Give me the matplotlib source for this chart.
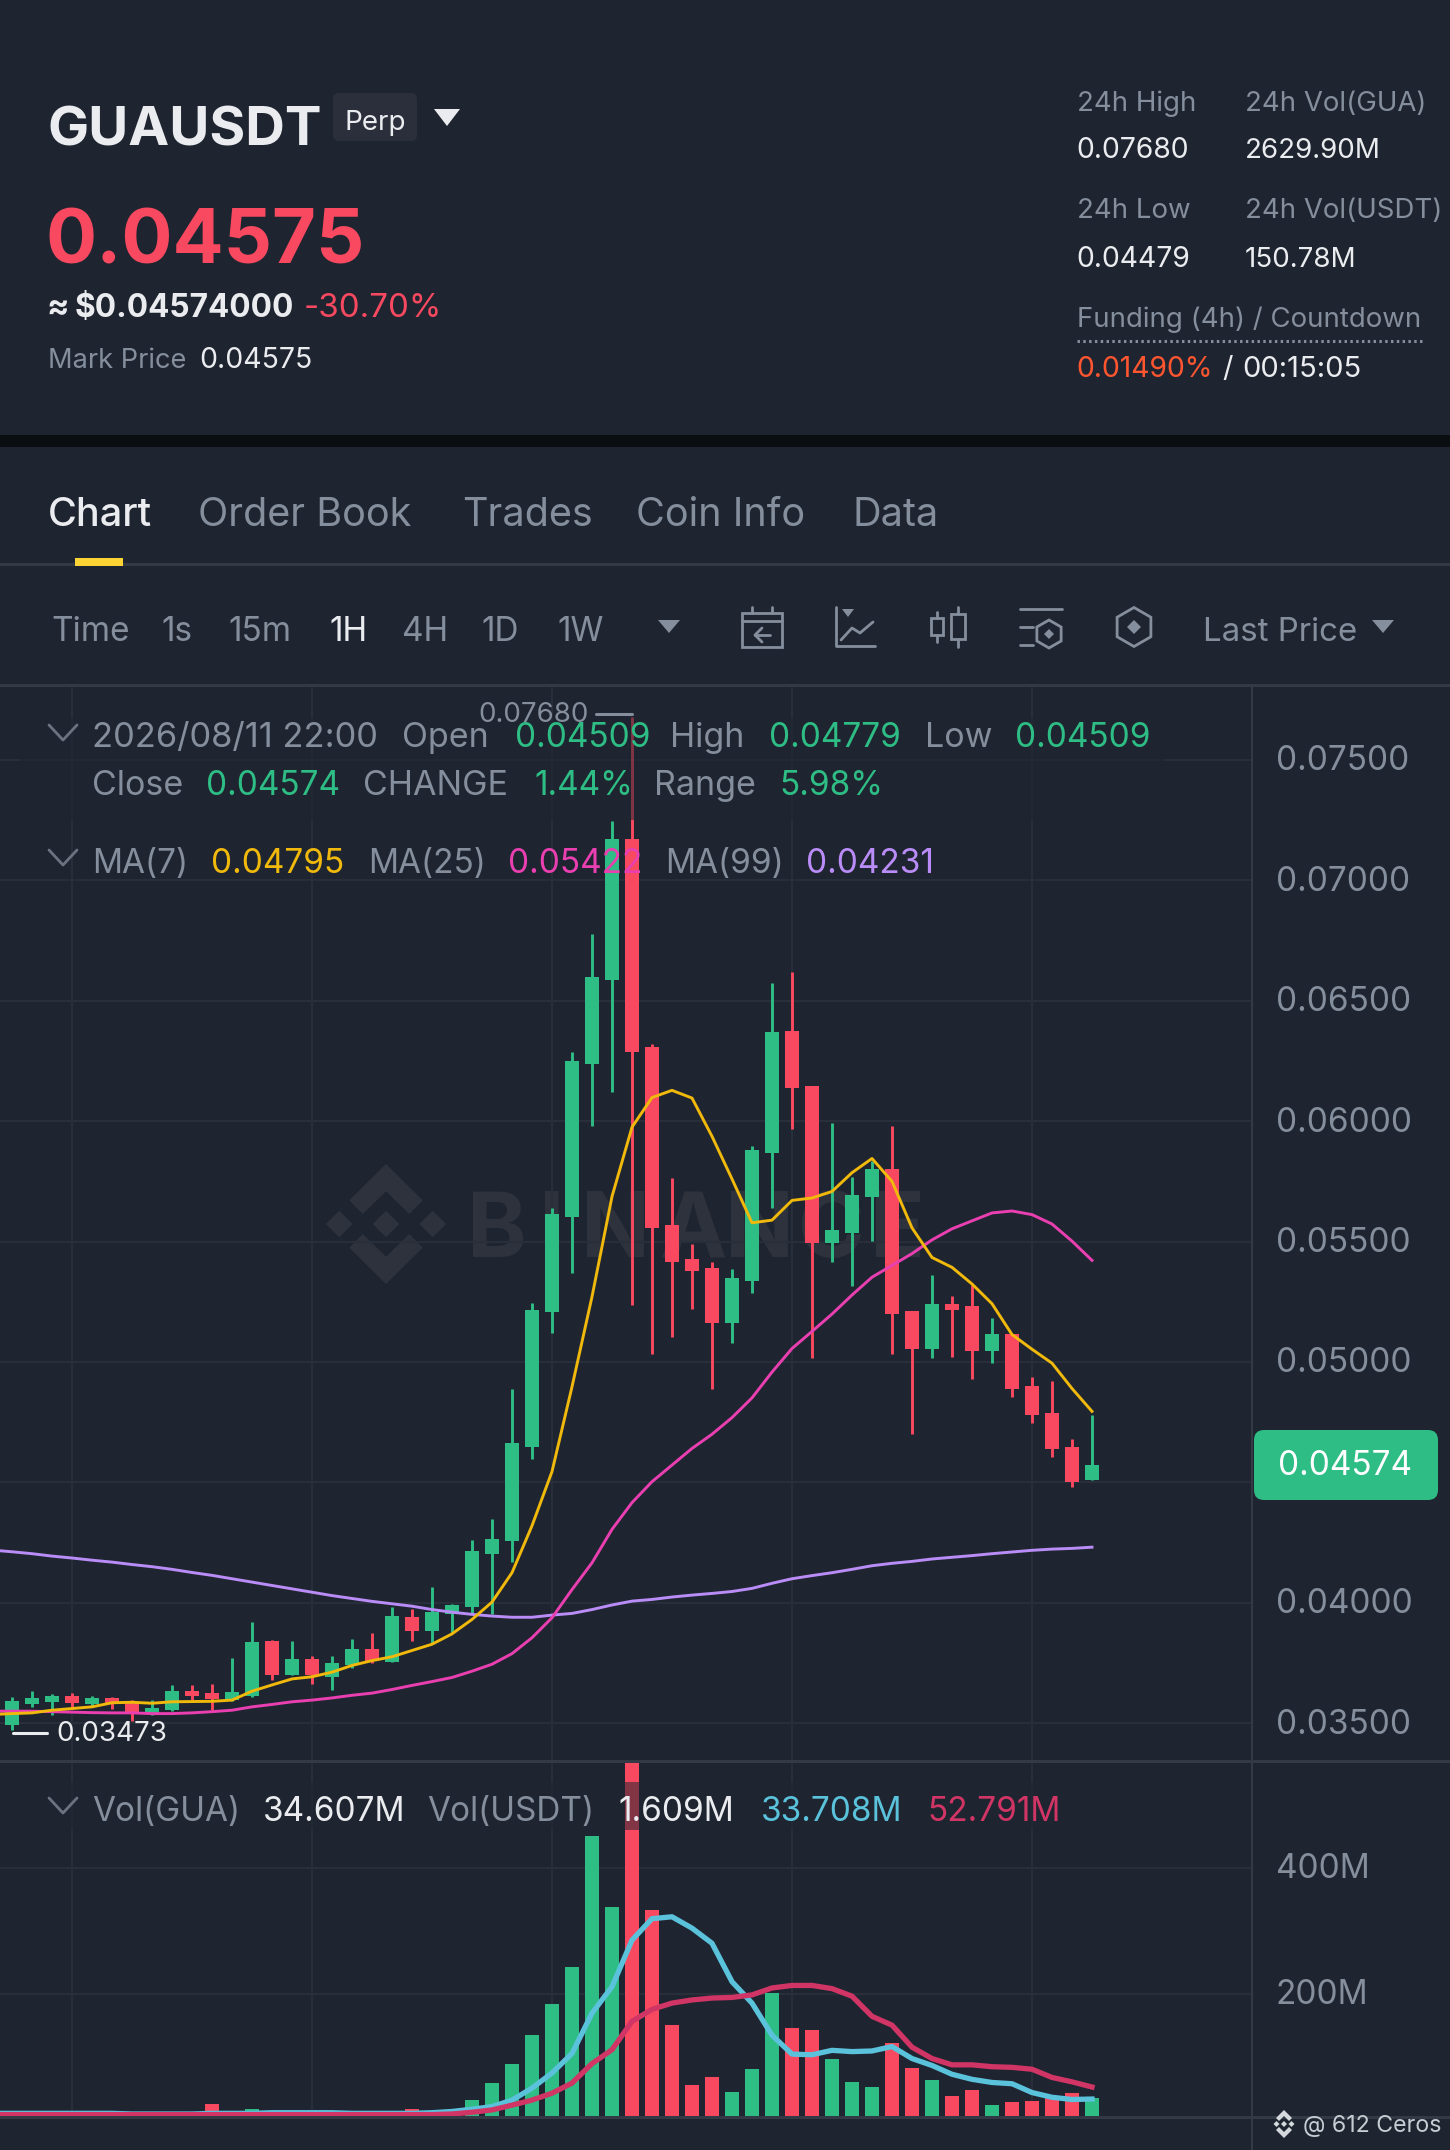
import numpy as np
import matplotlib
matplotlib.use('Agg')
import matplotlib.pyplot as plt
from matplotlib.patches import Rectangle, Polygon, FancyBboxPatch
from matplotlib.ticker import FuncFormatter
from matplotlib.transforms import ScaledTranslation

plt.rcParams['font.family'] = ['Inter', 'DejaVu Sans']

# candles, one hour each
opens = [.03494, .03578, .03589, .03611, .03579, .03605, .03589, .03543, .03553, .03634, .03626,
         .03596, .03615, .03841, .03699, .03765, .03694, .03740, .03809, .03756, .03940, .03885,
         .03953, .03981, .04201, .04255, .04648, .05209, .05601, .06236, .06586, .07171, .06306,
         .05568, .05427, .05389, .05163, .05338, .05868, .06375, .06147, .05496, .05537, .05686,
         .05803, .05210, .05053, .05242, .05232, .05046, .05117, .04900, .04787, .04648, .04509]
closes = [.03591, .03605, .03615, .03582, .03605, .03578, .03547, .03564, .03634, .03611, .03601,
          .03629, .03839, .03699, .03765, .03699, .03751, .03809, .03758, .03945, .03882, .03963,
          .03992, .04215, .04263, .04662, .05216, .05615, .06249, .06599, .07171, .06289, .05557,
          .05417, .05378, .05161, .05350, .05881, .06370, .06137, .05496, .05548, .05693, .05801,
          .05199, .05055, .05242, .05217, .05046, .05117, .04889, .04779, .04638, .04503, .04574]
highs = [.03609, .03634, .03623, .03626, .03615, .03609, .03598, .03598, .03659, .03659, .03663,
         .03769, .03920, .03845, .03841, .03781, .03781, .03850, .03873, .03981, .03975, .04066,
         .03994, .04259, .04346, .04887, .05246, .05640, .06286, .06777, .07248, .07680, .06320,
         .05763, .05491, .05415, .05386, .05898, .06574, .06620, .06147, .05991, .05767, .05836,
         .05978, .05210, .05361, .05274, .05319, .05183, .05117, .04936, .04922, .04682, .04779]
lows = [.03473, .03566, .03536, .03566, .03571, .03560, .03508, .03536, .03550, .03596, .03557,
        .03593, .03608, .03681, .03699, .03661, .03640, .03730, .03751, .03756, .03841, .03834,
        .03873, .03953, .03952, .04169, .04598, .05119, .05371, .05981, .06122, .05237, .05032,
        .05102, .05219, .04887, .05078, .05286, .05639, .05967, .05015, .05415, .05315, .05501,
        .05032, .04700, .05017, .05020, .04930, .04995, .04854, .04748, .04605, .04480, .04509]

# moving averages start one hour before the first visible candle
ma7 = [.03536, .03540, .03543, .03554, .03561, .03568, .03585, .03587, .03583, .03589, .03590, .03591,
       .03596, .03633, .03659, .03684, .03693, .03712, .03740, .03760, .03776, .03802, .03828,
       .03871, .03931, .04003, .04125, .04320, .04545, .04897, .05271, .05687, .05975, .06098,
       .06128, .06096, .05937, .05760, .05578, .05589, .05671, .05681, .05708, .05786, .05845,
       .05750, .05557, .05434, .05393, .05324, .05242, .05114, .05053, .04995, .04890, .04795]
ma25 = [.03550, .03550, .03550, .03548, .03546, .03544, .03543, .03543, .03540, .03540, .03543, .03548,
        .03554, .03568, .03578, .03589, .03596, .03605, .03616, .03625, .03640, .03657, .03673,
        .03690, .03716, .03745, .03789, .03855, .03938, .04055, .04166, .04305, .04416, .04503,
        .04572, .04641, .04700, .04769, .04851, .04958, .05056, .05127, .05199, .05278, .05352,
        .05401, .05450, .05507, .05553, .05586, .05619, .05627, .05612, .05573, .05502, .05422]
ma99 = [.04219, .04212, .04204, .04194, .04186, .04177, .04169, .04159, .04150, .04139, .04126, .04114,
        .04100, .04086, .04072, .04058, .04044, .04030, .04018, .04006, .03996, .03986, .03972,
        .03961, .03952, .03945, .03940, .03940, .03949, .03956, .03972, .03991, .04007, .04014,
        .04024, .04032, .04039, .04047, .04060, .04081, .04100, .04113, .04125, .04139, .04154,
        .04164, .04172, .04182, .04189, .04196, .04204, .04211, .04218, .04223, .04226, .04231]

# volume in millions
vols = [12, 10, 9, 10, 9, 8, 9, 8, 9, 10, 26, 9, 18, 10, 9, 10, 9, 8, 9, 10, 18, 11, 12, 32, 59, 90,
        135, 184, 243, 451, 339, 575, 334, 152, 56, 68, 45.5, 81, 202, 147, 143, 97, 61, 53, 122,
        83, 63.5, 38, 48, 24, 29, 31, 35, 43, 36]
vol_ma_fast = [11, 11, 11, 11, 11, 11, 11, 10, 10, 10, 10, 11, 11, 11, 12, 12, 12, 12, 11, 11, 11, 11, 12,
               14, 17.5, 21.7, 32, 51, 75, 106, 170, 212, 286, 320, 323, 305, 281, 220, 186, 135,
               105, 104, 111, 109, 110, 117, 98, 87, 73, 65, 60, 58, 44, 36.5, 33, 33.7]
vol_ma_slow = [9, 9, 9, 9, 9, 9, 9, 9, 9, 9, 9, 9, 9, 9, 9, 9, 9, 9, 9, 9, 9, 9, 9,
               10, 12.7, 16.4, 24, 32, 43, 59, 90, 112, 157, 176, 186, 191, 194, 195, 199, 210,
               214, 214, 209, 197, 165, 151, 116, 98, 88, 88, 85, 84, 81, 68, 61, 52.8]

price_ticks = [.035, .04, .045, .05, .055, .06, .065, .07, .075]
vol_ticks = [200, 400]
time_ticks = [3, 15, 27, 39, 51]

BG = '#1F2530'
GRID = '#292F3A'
SEP = '#333A46'
GREEN = '#2EBD85'
RED = '#F84960'
GREY = '#848E9C'
WHITE = '#EAECEF'
YELLOW = '#F0B90B'
PINK = '#E93FB0'
PURPLE = '#B98CF7'
BLUE = '#5BC2DC'
CRIMSON = '#D03565'
MARK = '#2E323D'

W, H = 1450, 2150
fig = plt.figure(figsize=(W / 100, H / 100), dpi=100, facecolor=BG)


def full_axes(z):
    a = fig.add_axes([0, 0, 1, 1], zorder=z)
    a.set_xlim(0, W)
    a.set_ylim(H, 0)
    a.axis('off')
    return a


def pane(top, bottom, z=1):
    a = fig.add_axes([0, 1 - bottom / H, 1252 / W, (bottom - top) / H], zorder=z)
    a.patch.set_alpha(0)
    for s in a.spines.values():
        s.set_visible(False)
    a.yaxis.tick_right()
    a.tick_params(length=0, pad=17, labelsize=24, labelcolor=GREY, labelbottom=False)
    a.set_xlim(-0.6, 62)
    a.set_xticks(time_ticks)
    a.grid(True, color=GRID, lw=1.5)
    a.set_axisbelow(True)
    return a


def lift_labels(a, px):
    # tick labels sit a little above their grid lines
    shift = ScaledTranslation(0, px / 100, fig.dpi_scale_trans)
    for lab in a.get_yticklabels():
        lab.set_transform(lab.get_transform() + shift)


back = full_axes(0)
ax = pane(686, 1762)
vax = pane(1762, 2118)
top = full_axes(2)

# watermark behind the candles
wx, wy = 386, 1224
for cx, cy in [(0, 0), (-46.7, 0), (46.7, 0)]:
    back.add_patch(Polygon([(wx + cx, wy - 13.3), (wx + cx + 13.3, wy), (wx + cx, wy + 13.3), (wx + cx - 13.3, wy)],
                           color=MARK, lw=0))
for sg in (1, -1):
    pts = [(0, -60), (36.7, -23.7), (23.3, -10), (0, -32.7), (-23.3, -10), (-36.7, -23.7)]
    back.add_patch(Polygon([(wx + a, wy + sg * b) for a, b in pts], color=MARK, lw=0))
for letter, lx in zip('BINANCE', [467, 539, 581, 660, 725, 798, 870]):
    back.text(lx, 1257, letter, fontsize=65, fontweight='bold', color=MARK, va='baseline')

# candles
idx = np.arange(len(opens))
o, c, hi, lo = map(np.array, (opens, closes, highs, lows))
col = [GREEN if b >= a else RED for a, b in zip(o, c)]
ax.vlines(idx, lo, hi, colors=col, lw=2.1, zorder=2)
ax.bar(idx, np.abs(c - o), bottom=np.minimum(o, c), width=0.7, color=col, zorder=3)
ma_x = np.arange(-1, len(opens))
ax.plot(ma_x, ma99, color=PURPLE, lw=2.1, zorder=4)
ax.plot(ma_x, ma25, color=PINK, lw=2.1, zorder=4)
ax.plot(ma_x, ma7, color=YELLOW, lw=2.1, zorder=5)
ax.set_ylim(0.03339, 0.07807)
ax.set_yticks(price_ticks)
ax.yaxis.set_major_formatter(FuncFormatter(lambda v, p: f'{v:.5f}'))
lift_labels(ax, 2)

# volume
vax.bar(idx, vols, width=0.7, color=col, zorder=2)
vax.plot(ma_x, vol_ma_fast, color=BLUE, lw=3.8, zorder=3)
vax.plot(ma_x, vol_ma_slow, color=CRIMSON, lw=3.8, zorder=4)
vax.set_ylim(3.6, 568.7)
vax.set_yticks(vol_ticks)
vax.yaxis.set_major_formatter(FuncFormatter(lambda v, p: f'{v:.0f}M'))
lift_labels(vax, 3)


def txt(x, y, s, size, color=GREY, weight='normal', ha='left', zorder=6):
    top.text(x, y, s, fontsize=size, color=color, fontweight=weight, ha=ha, va='baseline', zorder=zorder)


def line(xs, ys, color=GREY, lw=2.0):
    top.plot(xs, ys, color=color, lw=lw, solid_capstyle='round', solid_joinstyle='round')


def rect(x0, y0, x1, y1, color, alpha=1.0, z=1):
    top.add_patch(Rectangle((x0, y0), x1 - x0, y1 - y0, facecolor=color, alpha=alpha, lw=0, zorder=z))


def tri(x0, x1, y0, y1, color):
    top.add_patch(Polygon([(x0, y0), (x1, y0), ((x0 + x1) / 2, y1)], color=color, lw=0, joinstyle='round'))


def hexagon(cx, cy, r, d):
    a = np.radians(np.arange(-90, 300, 60))
    top.add_patch(Polygon(np.c_[cx + r * np.cos(a), cy + r * np.sin(a)], fill=False, edgecolor=GREY, lw=2.0))
    top.add_patch(Polygon([(cx, cy - d), (cx + d, cy), (cx, cy + d), (cx - d, cy)], color=GREY, lw=0))


# page bands and separators
rect(0, 435, W, 447, '#0B0E11')
rect(0, 563, W, 566, SEP)
rect(0, 684, W, 687, SEP)
rect(0, 1760, W, 1763, SEP)
rect(0, 2116, W, 2119, SEP)
rect(1251, 686, 1253, H, SEP)
# legend strips dim what lies under them
rect(20, 717, 1165, 820, BG, 0.55)
rect(20, 1782, 1080, 1830, BG, 0.55)

# header, left
txt(48, 145, 'GUAUSDT', 39.5, WHITE, 'bold')
top.add_patch(FancyBboxPatch((337, 97), 76, 40, boxstyle='round,pad=4,rounding_size=6', fc='#2A2F3B', ec='none'))
txt(345, 130, 'Perp', 20, WHITE)
tri(434, 460, 109, 126, WHITE)
txt(46, 264, '0.04575', 54.5, RED, 'bold')
txt(47, 317, '≈', 24, WHITE, 'bold')
txt(75, 317, '$0.04574000', 22.8, WHITE, 'bold')
txt(304, 317, '-30.70%', 23.8, RED)
txt(48, 368, 'Mark Price', 19.6, GREY)
txt(199, 368, '0.04575', 20.5, WHITE)

# header, right
txt(1077, 111, '24h High', 19.9, GREY)
txt(1245, 111, '24h Vol(GUA)', 19.9, GREY)
txt(1076, 158, '0.07680', 20.4, WHITE)
txt(1245, 158, '2629.90M', 20, WHITE)
txt(1077, 218, '24h Low', 19.9, GREY)
txt(1245, 218, '24h Vol(USDT)', 19.9, GREY)
txt(1076, 267, '0.04479', 20.4, WHITE)
txt(1245, 267, '150.78M', 20, WHITE)
txt(1077, 327, 'Funding (4h) / Countdown', 19.9, GREY)
top.plot([1077, 1422], [341, 341], color=GREY, lw=2.2, ls=(0, (0.8, 1.1)))
txt(1076, 377, '0.01490%', 20.4, '#FF5630')
txt(1222, 377, '/', 21, WHITE)
txt(1242, 377, '00:15:05', 21, WHITE)

# tabs
for label, x in zip(['Chart', 'Order Book', 'Trades', 'Coin Info', 'Data'], [48, 198, 462, 636, 853]):
    txt(x, 526, label, 28.5, WHITE if label == 'Chart' else GREY, 'medium' if label == 'Chart' else 'normal')
rect(75, 558, 123, 566, '#FCD535', z=3)

# toolbar
for label, x in zip(['Time', '1s', '15m', '1H', '4H', '1D', '1W'], [51, 161, 228, 329, 402, 481, 557]):
    txt(x, 641, label, 24, WHITE if label == '1H' else GREY)
tri(658, 680, 620, 633, GREY)
txt(1203, 641, 'Last Price', 23.8, GREY)
tri(1372, 1394, 620, 633, GREY)

# calendar icon
top.add_patch(Rectangle((742, 613), 40, 34, fill=False, edgecolor=GREY, lw=2.0))
line([742, 782], [621, 621])
line([752, 752], [607, 613])
line([772, 772], [607, 613])
line([755, 770], [635, 635])
line([762, 755, 762], [628, 635, 642])
# line chart icon
line([836, 836, 875], [607, 646, 646])
line([841, 852, 860, 873], [640, 628, 633, 622])
tri(842, 854, 609, 617, GREY)
# candle icon
top.add_patch(Rectangle((931, 618), 12, 17, fill=False, edgecolor=GREY, lw=2.0))
line([937, 937], [612, 618])
line([937, 937], [635, 642])
top.add_patch(Rectangle((951, 614), 14, 25, fill=False, edgecolor=GREY, lw=2.0))
line([958, 958], [607, 614])
line([958, 958], [639, 647])
# settings icon
line([1020, 1062], [609, 609])
line([1020, 1033], [627, 627])
line([1020, 1033], [645, 645])
hexagon(1049, 634, 14, 5)
hexagon(1134, 627, 19.5, 7)

# legends over the price pane
line([49, 63, 77], [725, 740, 725], '#6B7280')
line([49, 63, 77], [850, 865, 850], '#6B7280')
line([49, 63, 77], [1798, 1813, 1798], '#6B7280')
LABEL_SIZE, VALUE_SIZE = 24.5, 24
for label, x, color, size in [('2026/08/11 22:00', 92, GREY, 24.8), ('Open', 402, GREY, LABEL_SIZE),
                              ('0.04509', 515, GREEN, VALUE_SIZE), ('High', 670, GREY, LABEL_SIZE),
                              ('0.04779', 769, GREEN, VALUE_SIZE), ('Low', 925, GREY, LABEL_SIZE),
                              ('0.04509', 1015, GREEN, VALUE_SIZE)]:
    txt(x, 747, label, size, color)
for label, x, color, size in [('Close', 92, GREY, LABEL_SIZE), ('0.04574', 206, GREEN, VALUE_SIZE),
                              ('CHANGE', 363, GREY, LABEL_SIZE), ('1.44%', 534, GREEN, VALUE_SIZE),
                              ('Range', 654, GREY, LABEL_SIZE), ('5.98%', 779, GREEN, VALUE_SIZE)]:
    txt(x, 795, label, size, color)
for label, x, color in [('MA(7)', 92, GREY), ('0.04795', 211, YELLOW), ('MA(25)', 368, GREY), ('0.05422', 508, PINK),
                        ('MA(99)', 665, GREY), ('0.04231', 806, PURPLE)]:
    txt(x, 873, label, VALUE_SIZE, color)
for label, x, color in [('Vol(GUA)', 92, GREY), ('34.607M', 263, WHITE), ('Vol(USDT)', 427, GREY), ('1.609M', 618, WHITE),
                        ('33.708M', 761, BLUE), ('52.791M', 927, CRIMSON)]:
    txt(x, 1821, label, VALUE_SIZE, color)

# highest and lowest marks
txt(478, 722, '0.07680', 20, GREY)
line([596, 632], [714, 714], GREY, 2.2)
txt(56, 1741, '0.03473', 20, WHITE)
line([13, 47], [1733, 1733], WHITE, 2.2)

# last price tag
top.add_patch(FancyBboxPatch((1260, 1436), 172, 58, boxstyle='round,pad=6,rounding_size=10', fc=GREEN, ec='none', zorder=5))
txt(1345, 1475, '0.04574', 24, 'white', ha='center')

# corner mark
mx, my = 1284, 2124
for cx, cy in [(0, 0), (-7.5, 0), (7.5, 0)]:
    top.add_patch(Polygon([(mx + cx, my + cy - 3), (mx + cx + 3, my + cy), (mx + cx, my + cy + 3), (mx + cx - 3, my + cy)],
                          color='#D5D8DC', lw=0))
for sg in (1, -1):
    pts = [(0, -14), (8, -6), (5, -3), (0, -8), (-5, -3), (-8, -6)]
    top.add_patch(Polygon([(mx + a, my + sg * b) for a, b in pts], color='#D5D8DC', lw=0))
txt(1303, 2132, '@ 612 Ceros', 16.7, '#C8CDD3')

fig.savefig('out.png', dpi=100, facecolor=BG)
